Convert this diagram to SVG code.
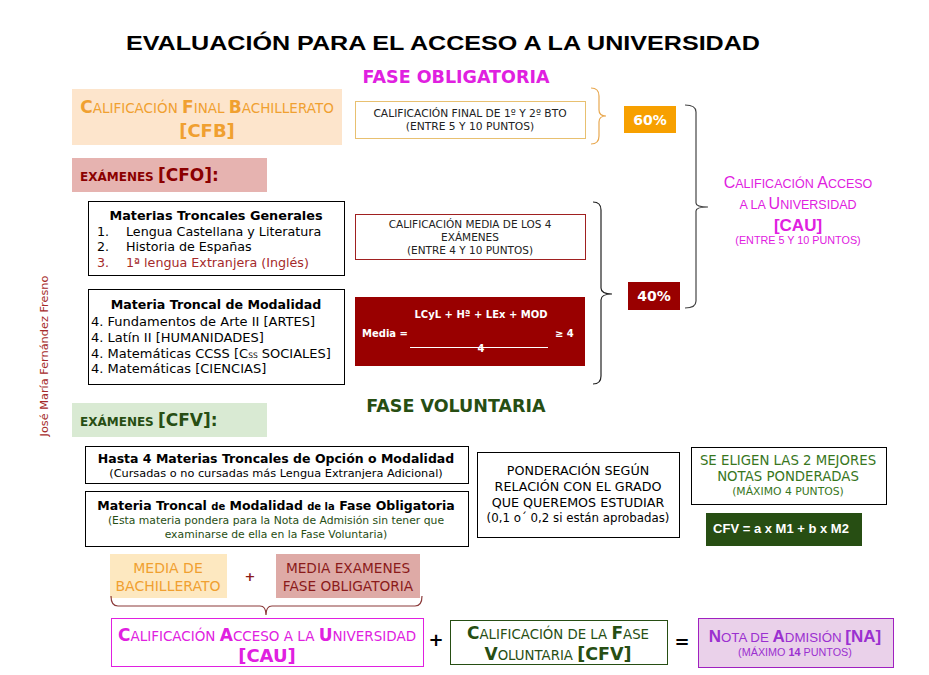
<svg xmlns="http://www.w3.org/2000/svg" width="929" height="675" viewBox="0 0 929 675">
<style>
.v{font-family:"DejaVu Sans",Verdana,sans-serif}
.a{font-family:"Liberation Sans",Arial,sans-serif}
.b{font-weight:bold}
.m{text-anchor:middle}
.brace{fill:none;stroke-width:1.2}
</style>
<rect width="929" height="675" fill="#fff"/>
<text class="a b m" x="443" y="50" font-size="21" fill="#000" textLength="634" lengthAdjust="spacingAndGlyphs">EVALUACIÓN PARA EL ACCESO A LA UNIVERSIDAD</text>
<text class="v b m" x="456" y="83" font-size="17.5" fill="#e020e0">FASE OBLIGATORIA</text>
<g id="cfb">
<rect x="72" y="89" width="270" height="56" fill="#fde5cc"/>
<text class="v m" x="207" y="113" fill="#f0a030" font-size="13.5"><tspan font-size="17" font-weight="bold">C</tspan>ALIFICACIÓN <tspan font-size="17" font-weight="bold">F</tspan>INAL <tspan font-size="17" font-weight="bold">B</tspan>ACHILLERATO</text>
<text class="v b m" x="207" y="137" fill="#f0a030" font-size="18">[CFB]</text>
</g>
<g id="cfo">
<rect x="72" y="158" width="195" height="34" fill="#e6b3b0"/>
<text class="v b" x="80" y="181" fill="#8b0000" font-size="12">EXÁMENES <tspan font-size="17">[CFO]:</tspan></text>
</g>
<g id="bto">
<rect x="355.5" y="101.5" width="230" height="37" fill="#fff" stroke="#e8c070"/>
<text class="v m" x="470" y="117" font-size="10.7" fill="#222">CALIFICACIÓN FINAL DE 1º Y 2º BTO</text>
<text class="v m" x="470" y="130" font-size="10.7" fill="#222">(ENTRE 5 Y 10 PUNTOS)</text>
</g>
<g id="p60">
<rect x="624" y="106" width="52" height="27" fill="#f7a000"/>
<text class="v b m" x="650" y="125" font-size="14" fill="#fff">60%</text>
</g>
<g id="cau-side">
<text class="a m" x="798" y="188" font-size="12.5" fill="#e020e0"><tspan font-size="16">C</tspan>ALIFICACIÓN <tspan font-size="16">A</tspan>CCESO</text>
<text class="a m" x="798" y="209" font-size="12.5" fill="#e020e0">A LA <tspan font-size="16">U</tspan>NIVERSIDAD</text>
<text class="a b m" x="798" y="231" font-size="17" fill="#e020e0">[CAU]</text>
<text class="a m" x="798" y="244" font-size="10.8" fill="#e020e0">(ENTRE 5 Y 10 PUNTOS)</text>
</g>
<g id="mtg">
<rect x="88.5" y="201.5" width="256" height="74" fill="#fff" stroke="#000"/>
<text class="v b m" x="216" y="220" font-size="12.8" fill="#000">Materias Troncales Generales</text>
<text class="v" font-size="12.7" fill="#000"><tspan x="97" y="236">1.</tspan><tspan x="126" y="236">Lengua Castellana y Literatura</tspan><tspan x="97" y="251">2.</tspan><tspan x="126" y="251">Historia de Españas</tspan></text>
<text class="v" font-size="12.7" fill="#a52a2a"><tspan x="97" y="267">3.</tspan><tspan x="126" y="267">1ª lengua Extranjera (Inglés)</tspan></text>
</g>
<g id="mtm">
<rect x="88.5" y="289.5" width="256" height="95" fill="#fff" stroke="#000"/>
<text class="v b m" x="216" y="309" font-size="12.6" fill="#000">Materia Troncal de Modalidad</text>
<text class="v" font-size="13" fill="#000"><tspan x="91" y="326">4. Fundamentos de Arte II [ARTES]</tspan><tspan x="91" y="342">4. Latín II [HUMANIDADES]</tspan><tspan x="91" y="358">4. Matemáticas CCSS [C<tspan font-size="7.5">SS</tspan> SOCIALES]</tspan><tspan x="91" y="373">4. Matemáticas [CIENCIAS]</tspan></text>
</g>
<g id="cme">
<rect x="355.5" y="214.5" width="230" height="45" fill="#fff" stroke="#a02020"/>
<text class="v m" font-size="10.5" fill="#222"><tspan x="470" y="228">CALIFICACIÓN MEDIA DE LOS 4</tspan><tspan x="470" y="241">EXÁMENES</tspan><tspan x="470" y="254">(ENTRE 4 Y 10 PUNTOS)</tspan></text>
</g>
<g id="formula">
<rect x="355" y="297" width="230" height="69" fill="#990000"/>
<text class="v b m" x="481" y="318" font-size="10" fill="#fff">LCyL + Hª + LEx + MOD</text>
<text class="v b" x="362" y="337" font-size="10" fill="#fff">Media =</text>
<text class="v b" x="555" y="337" font-size="10" fill="#fff">≥ 4</text>
<text class="v b m" x="481" y="352" font-size="10" fill="#fff">4</text>
<line x1="410" y1="347.5" x2="548" y2="347.5" stroke="#fff" stroke-width="1"/>
</g>
<g id="p40">
<rect x="628" y="282" width="52" height="28" fill="#990000"/>
<text class="v b m" x="654" y="301" font-size="14" fill="#fff">40%</text>
</g>
<g id="author">
<text class="v m" transform="translate(48,356) rotate(-90)" font-size="11.3" fill="#a52a2a">José María Fernández Fresno</text>
</g>
<text class="v b m" x="456" y="412" font-size="17.5" fill="#274e13">FASE VOLUNTARIA</text>
<g id="cfv">
<rect x="72" y="403" width="195" height="34" fill="#d9ead3"/>
<text class="v b" x="80" y="426" fill="#274e13" font-size="12">EXÁMENES <tspan font-size="17">[CFV]:</tspan></text>
</g>
<g id="hasta4">
<rect x="85.5" y="446.5" width="383" height="37" fill="#fff" stroke="#000"/>
<text class="v b m" x="276" y="463" font-size="12.5" fill="#000">Hasta 4 Materias Troncales de Opción o Modalidad</text>
<text class="v m" x="276" y="477" font-size="11.3" fill="#000">(Cursadas o no cursadas más Lengua Extranjera Adicional)</text>
</g>
<g id="mtmfo">
<rect x="85.5" y="491.5" width="383" height="55" fill="#fff" stroke="#000"/>
<text class="v b m" x="276" y="510" font-size="12.5" fill="#000">Materia Troncal <tspan font-size="10">de</tspan> Modalidad <tspan font-size="10">de la</tspan> Fase Obligatoria</text>
<text class="v m" x="276" y="524" font-size="10.8" fill="#274e13">(Esta materia pondera para la Nota de Admisión sin tener que</text>
<text class="v m" x="276" y="538" font-size="10.8" fill="#274e13">examinarse de ella en la Fase Voluntaria)</text>
</g>
<g id="pond">
<rect x="477.5" y="452.5" width="202" height="85" fill="#fff" stroke="#000"/>
<text class="v m" font-size="12.7" fill="#000"><tspan x="578" y="475">PONDERACIÓN SEGÚN</tspan><tspan x="578" y="491">RELACIÓN CON EL GRADO</tspan><tspan x="578" y="507">QUE QUEREMOS ESTUDIAR</tspan></text>
<text class="v m" x="578" y="522" font-size="11.8" fill="#000">(0,1 o´ 0,2 si están aprobadas)</text>
</g>
<g id="eligen">
<rect x="691.5" y="447.5" width="195" height="57" fill="#fff" stroke="#000"/>
<text class="v m" font-size="13.3" fill="#38761d"><tspan x="788" y="465">SE ELIGEN LAS 2 MEJORES</tspan><tspan x="788" y="481">NOTAS PONDERADAS</tspan></text>
<text class="v m" x="788" y="495" font-size="10.8" fill="#38761d">(MÁXIMO 4 PUNTOS)</text>
</g>
<g id="cfvf">
<rect x="706" y="513" width="156" height="33" fill="#274e13"/>
<text class="a b m" x="781" y="533" font-size="13" fill="#fff">CFV = a x M1 + b x M2</text>
</g>
<g id="mbach">
<rect x="110" y="554" width="117" height="44" fill="#fde8c0"/>
<text class="v m" font-size="14" fill="#f0a030"><tspan x="168" y="573">MEDIA DE</tspan><tspan x="168" y="591">BACHILLERATO</tspan></text>
</g>
<text class="v b m" x="250" y="581" font-size="13" fill="#8b1a1a">+</text>
<g id="mexam">
<rect x="276" y="554" width="144" height="44" fill="#deaaa6"/>
<text class="v m" font-size="13.7" fill="#8b1a1a"><tspan x="348" y="573">MEDIA EXAMENES</tspan><tspan x="348" y="591">FASE OBLIGATORIA</tspan></text>
</g>
<g id="cau">
<rect x="111.5" y="618.5" width="312" height="48" fill="#fff" stroke="#e020e0"/>
<text class="v m" x="267" y="641" font-size="13.5" fill="#e020e0"><tspan font-size="17" font-weight="bold">C</tspan>ALIFICACIÓN <tspan font-size="17" font-weight="bold">A</tspan>CCESO A LA <tspan font-size="17" font-weight="bold">U</tspan>NIVERSIDAD</text>
<text class="v b m" x="267" y="662" font-size="18" fill="#e020e0">[CAU]</text>
</g>
<text class="v b m" x="436" y="646" font-size="18" fill="#000">+</text>
<g id="cfvb">
<rect x="450.5" y="620.5" width="217" height="44" fill="#fff" stroke="#274e13"/>
<text class="v m" x="558" y="639" font-size="13.3" fill="#274e13"><tspan font-size="17" font-weight="bold">C</tspan>ALIFICACIÓN DE LA <tspan font-size="17" font-weight="bold">F</tspan>ASE</text>
<text class="v m" x="558" y="660" font-size="13.3" fill="#274e13"><tspan font-size="17" font-weight="bold">V</tspan>OLUNTARIA <tspan font-size="17.5" font-weight="bold">[CFV]</tspan></text>
</g>
<text class="v b m" x="682" y="648" font-size="18" fill="#000">=</text>
<g id="na">
<rect x="698.5" y="618.5" width="195" height="49" fill="#ead1ea" stroke="#a020c0"/>
<text class="a m" x="795" y="642" font-size="13.3" fill="#9b30d0"><tspan font-size="17" font-weight="bold">N</tspan>OTA DE <tspan font-size="17" font-weight="bold">A</tspan>DMISIÓN <tspan font-size="17" font-weight="bold">[NA]</tspan></text>
<text class="a m" x="795" y="656" font-size="10.8" fill="#9b30d0">(MÁXIMO <tspan font-weight="bold">14</tspan> PUNTOS)</text>
</g>
<g id="connectors">
<path class="brace" stroke="#e8a850" d="M591,88 Q599,88 599,96 L599,110 Q599,116 606,116 Q599,116 599,122 L599,136 Q599,144 591,144"/>
<path class="brace" stroke="#222" d="M593,202 Q601,202 601,210 L601,288 Q601,294 612,294 Q601,294 601,300 L601,376 Q601,384 593,384"/>
<path class="brace" stroke="#444" d="M685,105 Q696,105 696,112 L696,203 Q696,207 708,207 Q696,207 696,211 L696,301 Q696,308 685,308"/>
<path class="brace" stroke="#8b3a3a" d="M111,596 Q111,606 118,606 L260,606 Q266,606 266,615 Q266,606 272,606 L415,606 Q422,606 422,596"/>
</g>
</svg>
